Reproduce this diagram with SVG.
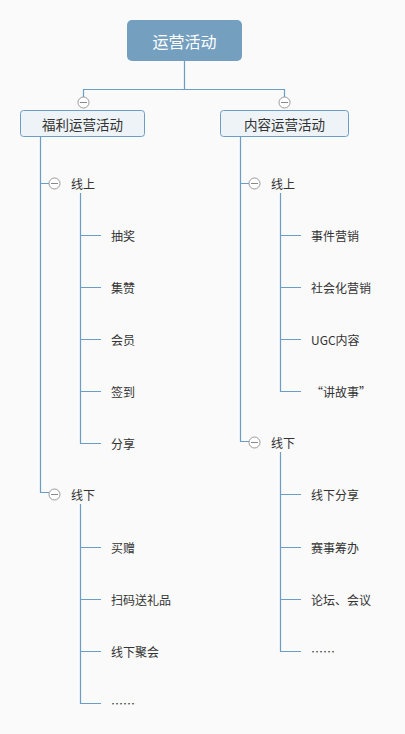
<svg xmlns="http://www.w3.org/2000/svg" width="405" height="734" viewBox="0 0 405 734">
<style>
.ln{fill:none;stroke:#6c9ec4;stroke-width:1.2}
.cc{fill:#fff;stroke:#999;stroke-width:1}
.cm{stroke:#888;stroke-width:1}
.t{font-family:"Microsoft YaHei","Noto Sans CJK SC",sans-serif;font-size:12px;fill:#333;dominant-baseline:central}
.b{font-family:"Microsoft YaHei","Noto Sans CJK SC",sans-serif;font-size:13.5px;fill:#333;text-anchor:middle;dominant-baseline:central}
.box{fill:#eef3f7;stroke:#6c9ec4;stroke-width:1}
</style>
<defs>
<g id="col"><circle class="cc" r="5.5"/><line class="cm" x1="-3.5" y1="0" x2="3.5" y2="0"/></g>
</defs>
<rect width="405" height="734" fill="#fafafa"/>
<g id="connectors">
<path class="ln" d="M184.5 61V89.5H83.5V97M184.5 89.5H284.5V97"/>
<path class="ln" d="M40.5 136V492.5H49M40.5 183.5H49"/>
<path class="ln" d="M80.5 193V443.5H101M80.5 235.5H101M80.5 287.5H101M80.5 339.5H101M80.5 391.5H101"/>
<path class="ln" d="M80.5 504V703.5H101M80.5 547.5H101M80.5 599.5H101M80.5 651.5H101"/>
<path class="ln" d="M240.5 136V441.5H249M240.5 183.5H249"/>
<path class="ln" d="M280.5 193V391.5H301M280.5 235.5H301M280.5 287.5H301M280.5 339.5H301"/>
<path class="ln" d="M280.5 452V651.5H301M280.5 494.5H301M280.5 547.5H301M280.5 599.5H301"/>
</g>
<g id="root">
<rect x="127" y="20" width="115" height="41" rx="5" fill="#759fbf"/>
<text x="184.5" y="41" font-family="Microsoft YaHei,Noto Sans CJK SC,sans-serif" font-size="16" fill="#fff" text-anchor="middle" dominant-baseline="central">运营活动</text>
</g>
<g id="n1">
<use href="#col" x="83.5" y="102.5"/>
<rect class="box" x="20.5" y="110.5" width="124" height="26" rx="3"/>
<text class="b" x="82.5" y="123.5">福利运营活动</text>
</g>
<g id="n2">
<use href="#col" x="284.5" y="102.5"/>
<rect class="box" x="220.5" y="110.5" width="128" height="26" rx="3"/>
<text class="b" x="284.5" y="123.5">内容运营活动</text>
</g>
<g id="n1a"><use href="#col" x="54.5" y="183.5"/><text class="t" x="71" y="183.5">线上</text></g>
<g id="n1a1"><text class="t" x="111" y="235.5">抽奖</text></g>
<g id="n1a2"><text class="t" x="111" y="287.5">集赞</text></g>
<g id="n1a3"><text class="t" x="111" y="339.5">会员</text></g>
<g id="n1a4"><text class="t" x="111" y="391.5">签到</text></g>
<g id="n1a5"><text class="t" x="111" y="443.5">分享</text></g>
<g id="n1b"><use href="#col" x="54.5" y="494.5"/><text class="t" x="71" y="494.5">线下</text></g>
<g id="n1b1"><text class="t" x="111" y="547.5">买赠</text></g>
<g id="n1b2"><text class="t" x="111" y="599.5">扫码送礼品</text></g>
<g id="n1b3"><text class="t" x="111" y="651.5">线下聚会</text></g>
<g id="n1b4"><text class="t" x="111" y="703.5">……</text></g>
<g id="n2a"><use href="#col" x="254.5" y="183.5"/><text class="t" x="271" y="183.5">线上</text></g>
<g id="n2a1"><text class="t" x="311" y="235.5">事件营销</text></g>
<g id="n2a2"><text class="t" x="311" y="287.5">社会化营销</text></g>
<g id="n2a3"><text class="t" x="311" y="339.5">UGC内容</text></g>
<g id="n2a4"><text class="t" x="311" y="391.5">“讲故事”</text></g>
<g id="n2b"><use href="#col" x="254.5" y="442.5"/><text class="t" x="271" y="442.5">线下</text></g>
<g id="n2b1"><text class="t" x="311" y="494.5">线下分享</text></g>
<g id="n2b2"><text class="t" x="311" y="547.5">赛事筹办</text></g>
<g id="n2b3"><text class="t" x="311" y="599.5">论坛、会议</text></g>
<g id="n2b4"><text class="t" x="311" y="651.5">……</text></g>
</svg>
